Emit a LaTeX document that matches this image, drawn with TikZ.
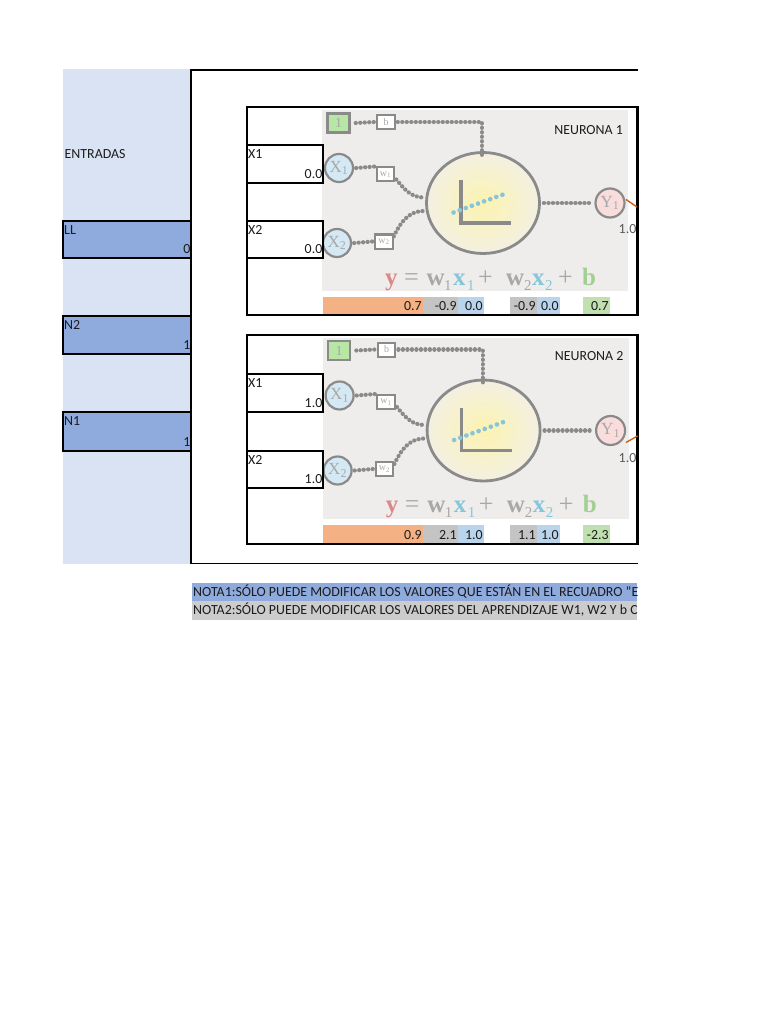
\documentclass[tikz,border=0pt]{standalone}
\usepackage{fontspec}
\setmainfont{Carlito}
\newfontfamily\eqfont{Liberation Serif}[Scale=1]
\usetikzlibrary{shapes.geometric}
\definecolor{panel}{HTML}{DAE3F3}
\definecolor{inbox}{HTML}{8FAADC}
\definecolor{photo}{HTML}{EEEDEB}
\definecolor{ringg}{HTML}{8A8A8A}
\definecolor{cellor}{HTML}{F4B183}
\definecolor{cellgr}{HTML}{C4C4C4}
\definecolor{cellbl}{HTML}{BAD4EC}
\definecolor{cellgn}{HTML}{C0E0B0}
\definecolor{notegr}{HTML}{CCCCCC}
\definecolor{eqred}{HTML}{D98A88}
\definecolor{eqgray}{HTML}{A8A8A8}
\definecolor{eqblue}{HTML}{86C6DA}
\definecolor{eqgreen}{HTML}{A2CF92}
\definecolor{xfill}{HTML}{D5E9F5}
\definecolor{yfill}{HTML}{F9DCDC}
\definecolor{onefill}{HTML}{B8E6A4}
\definecolor{txtc}{HTML}{1C1C1C}
\definecolor{glowin}{HTML}{FCF3B0}
\definecolor{glowout}{HTML}{F3F0E2}
\definecolor{wireor}{HTML}{C8641E}
\tikzset{
  txt/.style={font=\fontsize{13.9}{15}\selectfont,text=txtc,inner sep=0pt},
  frame/.style={draw=black,line width=2.2pt,outer sep=0pt},
  dotl/.style={draw=ringg,line width=4.2pt,line cap=round,dash pattern=on 0.1pt off 4.4pt},
  round1/.style={circle,draw=ringg,line width=2.2pt,fill=xfill,minimum size=28pt,inner sep=0pt,
     font=\eqfont\fontsize{17}{17}\selectfont,text=eqgray},
  tag/.style={draw=ringg,line width=2pt,fill=white,minimum width=17.5pt,minimum height=14pt,inner sep=0pt,
     font=\eqfont\fontsize{10}{10}\selectfont,text=eqgray},
  eqbig/.style={font=\eqfont\bfseries\fontsize{25}{25}\selectfont,inner sep=0pt,anchor=base west},
  eqthin/.style={font=\eqfont\fontsize{26}{26}\selectfont,inner sep=0pt,anchor=base west},
  eqsub/.style={font=\eqfont\fontsize{15}{15}\selectfont,inner sep=0pt,anchor=base west},
}
% name, x1,y1,x2,y2, colour, text
\newcommand\valcell[7]{%
  \fill[#6] (#2,#3) rectangle (#4,#5);
  \node[txt,anchor=base east] (#1) at ({#4-1.2},{#5-3.5}) {#7};}
% prefix, title, title baseline
\newcommand\neuronart[3]{%
  \fill[photo] (322,110) rectangle (628,291);
  \node[txt,anchor=base east] (#1-title) at (623,#3) {#2};
  \node[draw=ringg,line width=2.4pt,fill=onefill,minimum width=22pt,minimum height=19pt,inner sep=0pt,
     font=\eqfont\fontsize{14}{14}\selectfont,text=eqgray] (#1-one) at (338.5,123) {1};
  \node[tag] (#1-b) at (386,122) {b};
  \node[tag] (#1-w1) at (385.5,174.5) {w\textsubscript{1}};
  \node[tag] (#1-w2) at (384,241.5) {w\textsubscript{2}};
  \node[round1] (#1-x1) at (339,168) {X\textsubscript{1}};
  \node[round1] (#1-x2) at (337,243) {X\textsubscript{2}};
  \node[round1,fill=yfill,minimum size=29pt] (#1-y) at (610,203) {Y\textsubscript{1}};
  \node[ellipse,draw=ringg,line width=2.8pt,inner color=glowin,outer color=glowout,
     minimum width=113pt,minimum height=101pt,inner sep=0pt] (#1-core) at (483,203) {};
  \coordinate (#1-c) at (482,122);
  \coordinate (#1-in1) at (424,197.5);
  \coordinate (#1-in2) at (424,211);
  \coordinate (#1-axo) at (461,223);
  \coordinate (#1-axt) at (461,180);
  \coordinate (#1-axr) at (511,223);
  \coordinate (#1-l1) at (453.5,212.5);
  \coordinate (#1-l2) at (503,194.5);
  \draw[dotl] ([xshift=5pt]#1-one.east) -- ([xshift=-2pt]#1-b.west);
  \draw[dotl] ([xshift=2pt]#1-b.east) -- (#1-c) -- ([yshift=-5pt]#1-c |- #1-core.north);
  \draw[dotl] ([xshift=2pt]#1-x1.east) -- ([xshift=-1pt]#1-w1.north west);
  \draw[dotl] ([xshift=2pt]#1-x2.east) -- ([xshift=-2pt]#1-w2.west);
  \draw[dotl] ([shift={(1pt,3pt)}]#1-w1.south east) to[out=-50,in=180] (#1-in1);
  \draw[dotl] ([yshift=-3pt]#1-w2.north east) to[out=65,in=180] (#1-in2);
  \draw[dotl] ([xshift=3pt]#1-core.east) -- ([xshift=-2pt]#1-y.west);
  \draw[ringg,line width=3.2pt] (#1-axt) -- (#1-axo) -- (#1-axr);
  \draw[eqblue,line width=4.6pt,line cap=round,dash pattern=on 0.1pt off 6.4pt] (#1-l1) -- (#1-l2);
  \node[eqbig,text=eqred] (#1-e1) at (385,285) {y};
  \node[eqthin,text=eqgray] (#1-e2) at (404,285) {=};
  \node[eqbig,text=eqgray] (#1-e3) at (426.5,285) {w};
  \node[eqsub,text=eqgray] (#1-e4) at (444,290) {1};
  \node[eqbig,text=eqblue] (#1-e5) at (453,285) {x};
  \node[eqsub,text=eqblue] (#1-e6) at (467,290) {1};
  \node[eqthin,text=eqgray] (#1-e7) at (478,285) {+};
  \node[eqbig,text=eqgray] (#1-e8) at (506,285) {w};
  \node[eqsub,text=eqgray] (#1-e9) at (524,290) {2};
  \node[eqbig,text=eqblue] (#1-e10) at (532,285) {x};
  \node[eqsub,text=eqblue] (#1-e11) at (545,290) {2};
  \node[eqthin,text=eqgray] (#1-e12) at (558,285) {+};
  \node[eqbig,text=eqgreen] (#1-e13) at (582,285) {b};
}
\newcommand\inputbox[5]{% name,label,value,y1,y2 (left panel)
  \node[draw=black,line width=1.8pt,outer sep=0pt,fill=inbox,minimum width=128pt,minimum height={#5-#4},anchor=north west,inner sep=0pt] (#1) at (63,#4) {};
  \node[txt,anchor=base west] (#1-l) at (64,{#4+13.5}) {#2};
  \node[txt,anchor=base east] (#1-v) at (190.5,{#5-4.5}) {#3};}
\newcommand\varbox[5]{% name,label,value,y1,y2 (neuron inputs)
  \node[draw=black,line width=1.8pt,outer sep=0pt,fill=white,minimum width=76pt,minimum height={#5-#4},anchor=north west,inner sep=0pt] (#1) at (247,#4) {};
  \node[txt,anchor=base west] (#1-l) at (248,{#4+13.7}) {#2};
  \node[txt,anchor=base east] (#1-v) at (322.5,{#5-4.5}) {#3};}
\begin{document}
\begin{tikzpicture}[x=1pt,y=-1pt]
\useasboundingbox (0,0) rectangle (768,1024);
\fill[white] (0,0) rectangle (768,1024);
% left panel
\fill[panel] (63,69) rectangle (191,564);
\node[txt,anchor=base west] (entradas) at (64.5,158.7) {ENTRADAS};
\inputbox{ll}{LL}{0}{221}{258}
\inputbox{n2in}{N2}{1}{316}{354}
\inputbox{n1in}{N1}{1}{412}{451}
% outer frame
\draw[black,line width=2.6pt] (637.5,70) -- (191,70);
\draw[black,line width=2pt] (191,69) -- (191,564);
\draw[black,line width=1.5pt] (190,563.5) -- (637.5,563.5);
% neuron 1
\node[frame,minimum width=390.5pt,minimum height=208pt,anchor=north west,inner sep=0pt] (box1) at (247,107) {};
\neuronart{a}{NEURONA 1}{134.7}
\varbox{a-bx1}{X1}{0.0}{145}{183}
\varbox{a-bx2}{X2}{0.0}{221}{258}
\coordinate (a-out) at (637,207);
\draw[draw=wireor,line width=1.4pt] (626,199.5) -- (a-out);
\node[txt,text=black!65,anchor=base east] (a-yv) at (636.5,233.5) {1.0};
\valcell{a-c1}{323}{297}{423}{314}{cellor}{0.7}
\valcell{a-c2}{423}{297}{458}{314}{cellgr}{-0.9}
\valcell{a-c3}{458}{297}{484}{314}{cellbl}{0.0}
\valcell{a-c4}{510}{297}{537}{314}{cellgr}{-0.9}
\valcell{a-c5}{537}{297}{560}{314}{cellbl}{0.0}
\valcell{a-c6}{583}{297}{610}{314}{cellgn}{0.7}
% neuron 2
\node[frame,minimum width=390.5pt,minimum height=209pt,anchor=north west,inner sep=0pt] (box2) at (247,335) {};
\begin{scope}[shift={(0.6,227.5)}]
\neuronart{c}{NEURONA 2}{132.5}
\end{scope}
\varbox{c-bx1}{X1}{1.0}{374}{412}
\varbox{c-bx2}{X2}{1.0}{451}{488}
\coordinate (c-out) at (637.5,436);
\draw[draw=wireor,line width=1.4pt] (626,442.5) -- (c-out);
\node[txt,text=black!65,anchor=base east] (c-yv) at (636.5,462.5) {1.0};
\valcell{c-c1}{323}{525}{423}{543}{cellor}{0.9}
\valcell{c-c2}{423}{525}{458}{543}{cellgr}{2.1}
\valcell{c-c3}{458}{525}{484}{543}{cellbl}{1.0}
\valcell{c-c4}{510}{525}{537}{543}{cellgr}{1.1}
\valcell{c-c5}{537}{525}{560}{543}{cellbl}{1.0}
\valcell{c-c6}{583}{525}{610}{543}{cellgn}{-2.3}
% notes
\fill[inbox] (192,583) rectangle (637,601);
\fill[notegr] (192,601) rectangle (637,620);
\begin{scope}
\clip (192,580) rectangle (637,622);
\node[txt,anchor=base west] (nota1) at (193,596.3) {NOTA1:SÓLO PUEDE MODIFICAR LOS VALORES QUE ESTÁN EN EL RECUADRO "E};
\node[txt,anchor=base west] (nota2) at (193,614.3) {NOTA2:SÓLO PUEDE MODIFICAR LOS VALORES DEL APRENDIZAJE W1, W2 Y b C};
\end{scope}
\end{tikzpicture}
\end{document}
